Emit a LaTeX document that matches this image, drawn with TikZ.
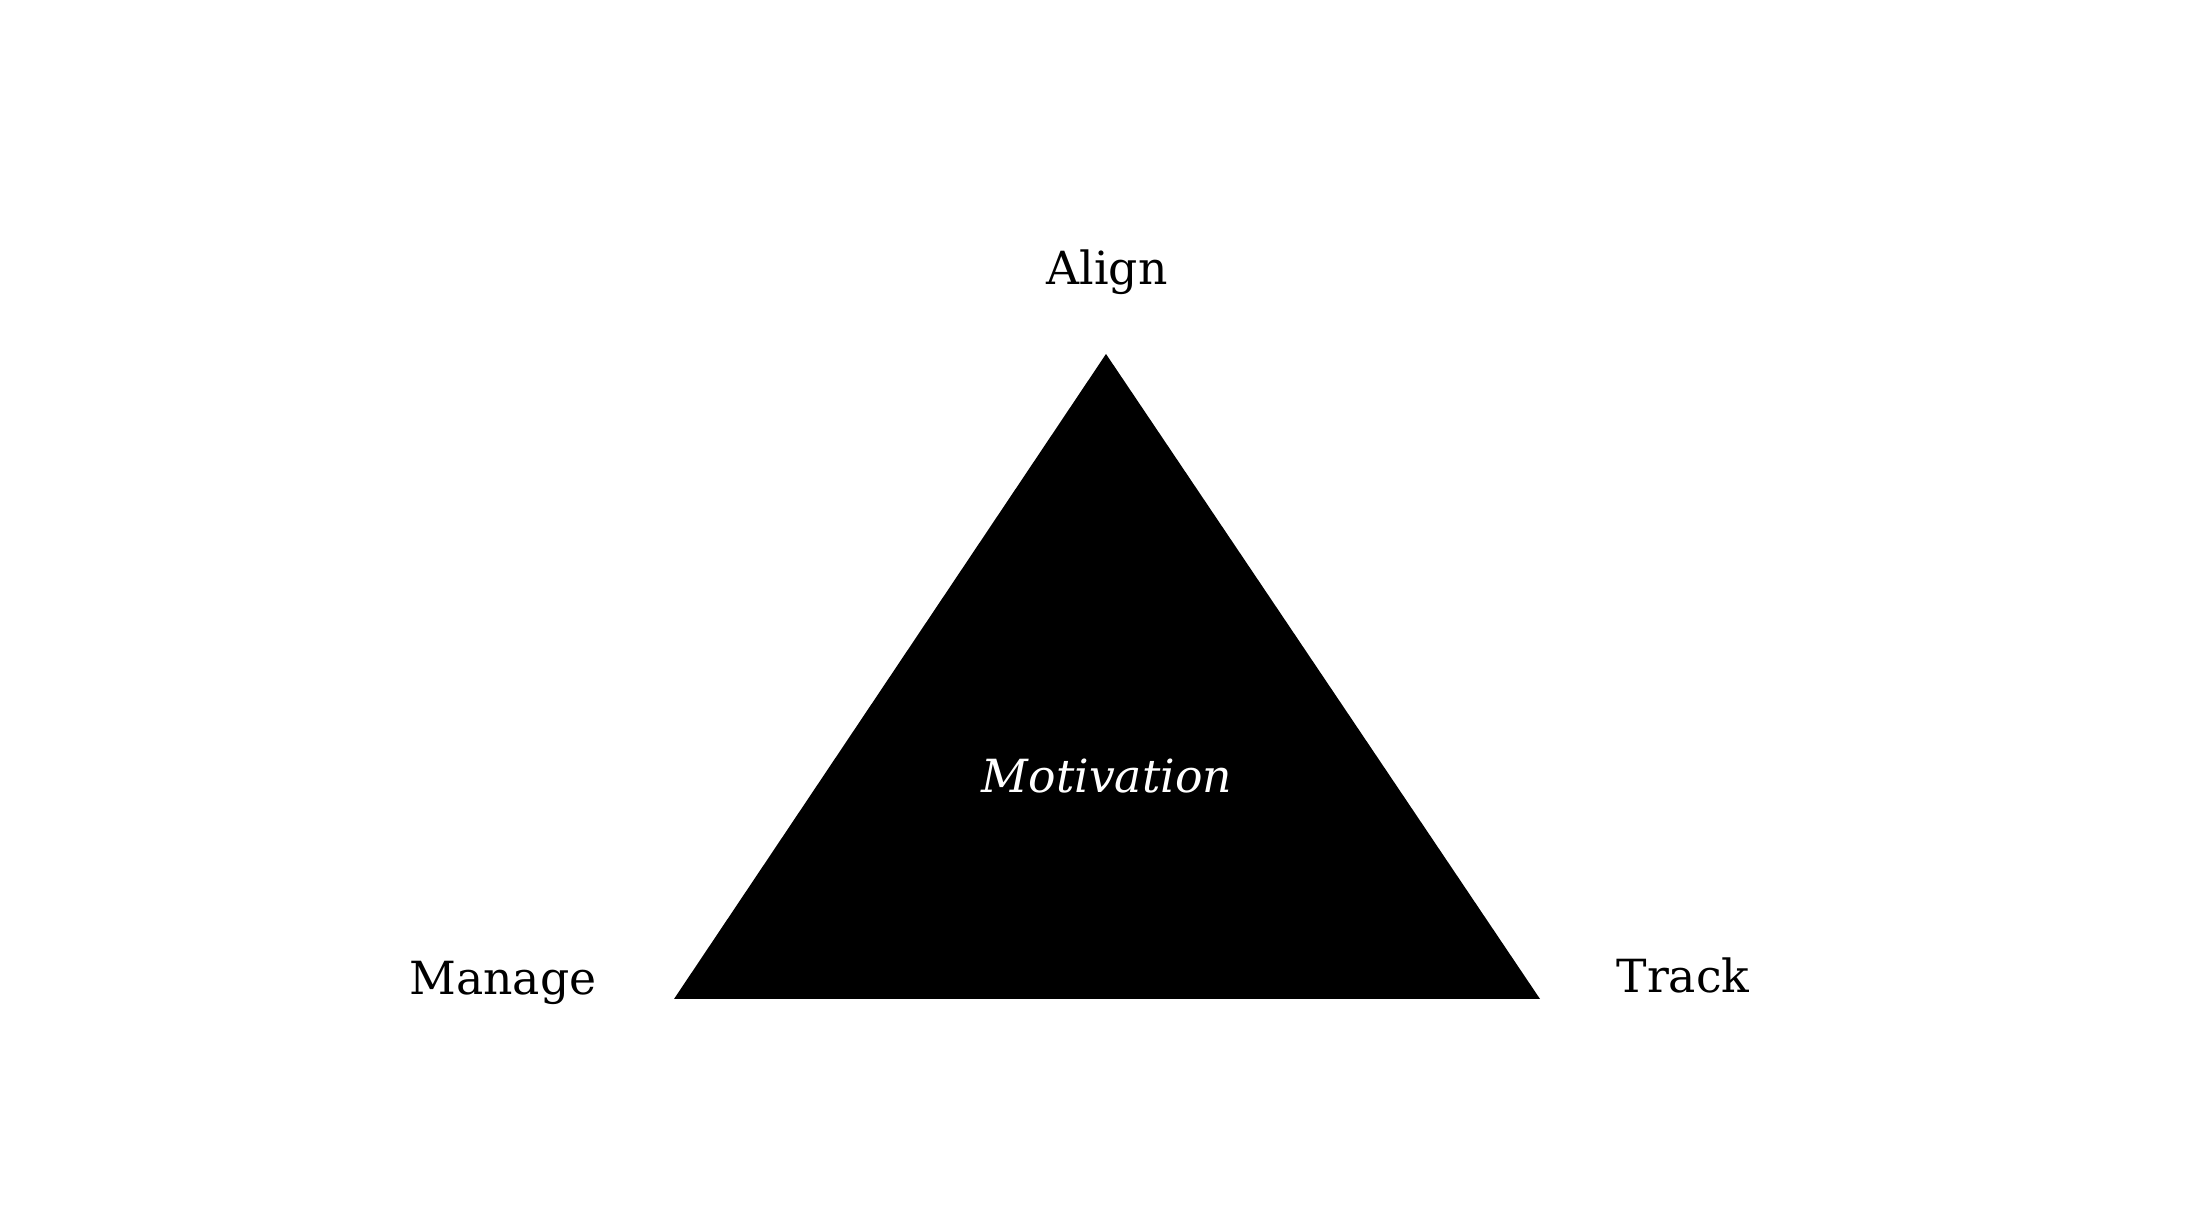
\documentclass[tikz,border=0pt]{standalone}
\usepackage{fontspec}
\setmainfont{DejaVu Serif}
\usepackage{tikz}
\usetikzlibrary{positioning}

\begin{document}
\begin{tikzpicture}[every node/.style={font=\fontsize{13}{15}\selectfont, anchor=base, inner sep=0pt},
    corner/.style={text=black},
    centre/.style={text=white, font=\fontsize{13}{15}\selectfont\itshape}]
    % Canvas
    \useasboundingbox (0,0) rectangle (21.87,12.15);

    % Triangle corners
    \coordinate (top) at (11.06, 8.61);
    \coordinate (left) at (6.74, 2.16);
    \coordinate (right) at (15.40, 2.16);
    \fill[black] (top) -- (left) -- (right) -- cycle;

    % Labels
    \node[corner] (align) at (11.07, 9.30) {Align};
    \node[corner] (manage) at (5.03, 2.20) {Manage};
    \node[corner] (track) at (16.83, 2.22) {Track};
    \node[centre] (motivation) at (11.07, 4.22) {Motivation};
\end{tikzpicture}
\end{document}
